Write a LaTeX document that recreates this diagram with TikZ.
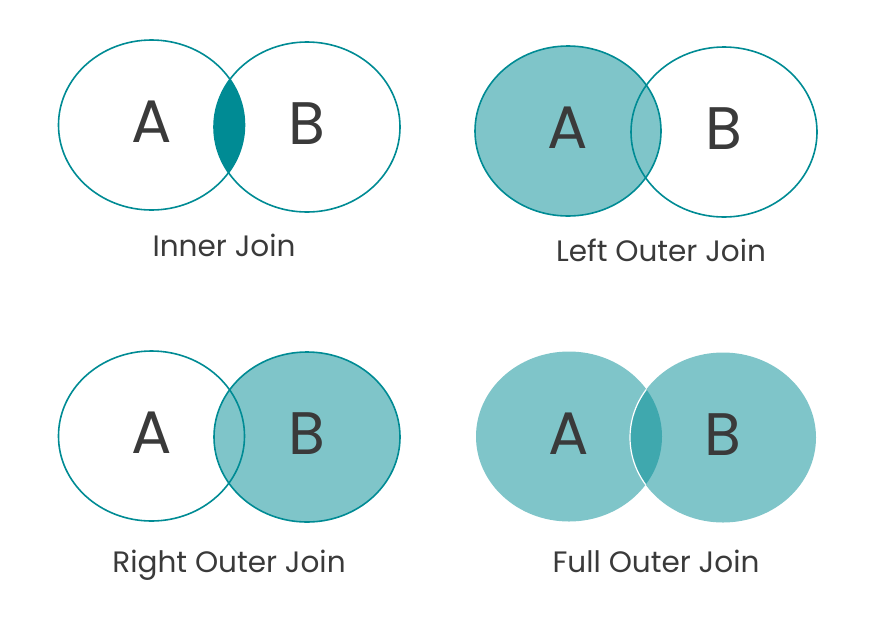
\documentclass[tikz,border=0pt]{standalone}
\usepackage{fontspec}
\setmainfont{Poppins}
\usepackage{xcolor}
\usepackage{tikz}
\usetikzlibrary{calc}

\definecolor{joinTeal}{HTML}{008B94}
\definecolor{ink}{HTML}{3A3A3A}

\begin{document}
\begin{tikzpicture}[x=1pt,y=1pt,yscale=-1,
  rim/.style={draw=joinTeal, line width=1.6pt},
  shade/.style={fill=joinTeal, fill opacity=0.5},
  letter/.style={text=ink, font=\fontsize{60}{60}\selectfont, anchor=base},
  caption/.style={text=ink, font=\fontsize{29.5}{30}\selectfont, anchor=base},
  oval/.style={x radius=93, y radius=85}]
\useasboundingbox (0,0) rectangle (874,619);
%1. 标记四组集合的圆心
\coordinate (A1) at (151.5, 125);
\coordinate (B1) at (307, 127);
\coordinate (A2) at (568, 131);
\coordinate (B2) at (724, 132);
\coordinate (A3) at (151.5, 436);
\coordinate (B3) at (307, 437);
\coordinate (A4) at (569, 436.5);
\coordinate (B4) at (723, 437.5);
%2. Inner Join：只填交集
\begin{scope}
  \clip (A1) ellipse [oval];
  \fill[joinTeal] (B1) ellipse [oval];
\end{scope}
\draw[rim] (A1) ellipse [oval];
\draw[rim] (B1) ellipse [oval];
%3. Left Outer Join：填 A
\fill[shade] (A2) ellipse [oval];
\draw[rim] (A2) ellipse [oval];
\draw[rim] (B2) ellipse [oval];
%4. Right Outer Join：填 B
\fill[shade] (B3) ellipse [oval];
\draw[rim] (A3) ellipse [oval];
\draw[rim] (B3) ellipse [oval];
%5. Full Outer Join：两个都填，交集处留白边
\fill[shade] (A4) ellipse [oval];
\fill[shade] (B4) ellipse [oval];
\begin{scope}
  \clip (A4) ellipse [oval];
  \draw[white, line width=1.2pt] (B4) ellipse [oval];
\end{scope}
%6. 集合字母
\foreach \n in {1,2,3,4}
  {\node[letter] (a\n) at ($(A\n)+(0,17.5)$) {A};
   \node[letter] (b\n) at ($(B\n)+(0,17.5)$) {B};
  }
%7. 标题
\node[caption] (capInner) at (224, 256) {Inner Join};
\node[caption] (capLeft) at (661, 261) {Left Outer Join};
\node[caption] (capRight) at (229, 572) {Right Outer Join};
\node[caption] (capFull) at (656, 572) {Full Outer Join};
\end{tikzpicture}
\end{document}
